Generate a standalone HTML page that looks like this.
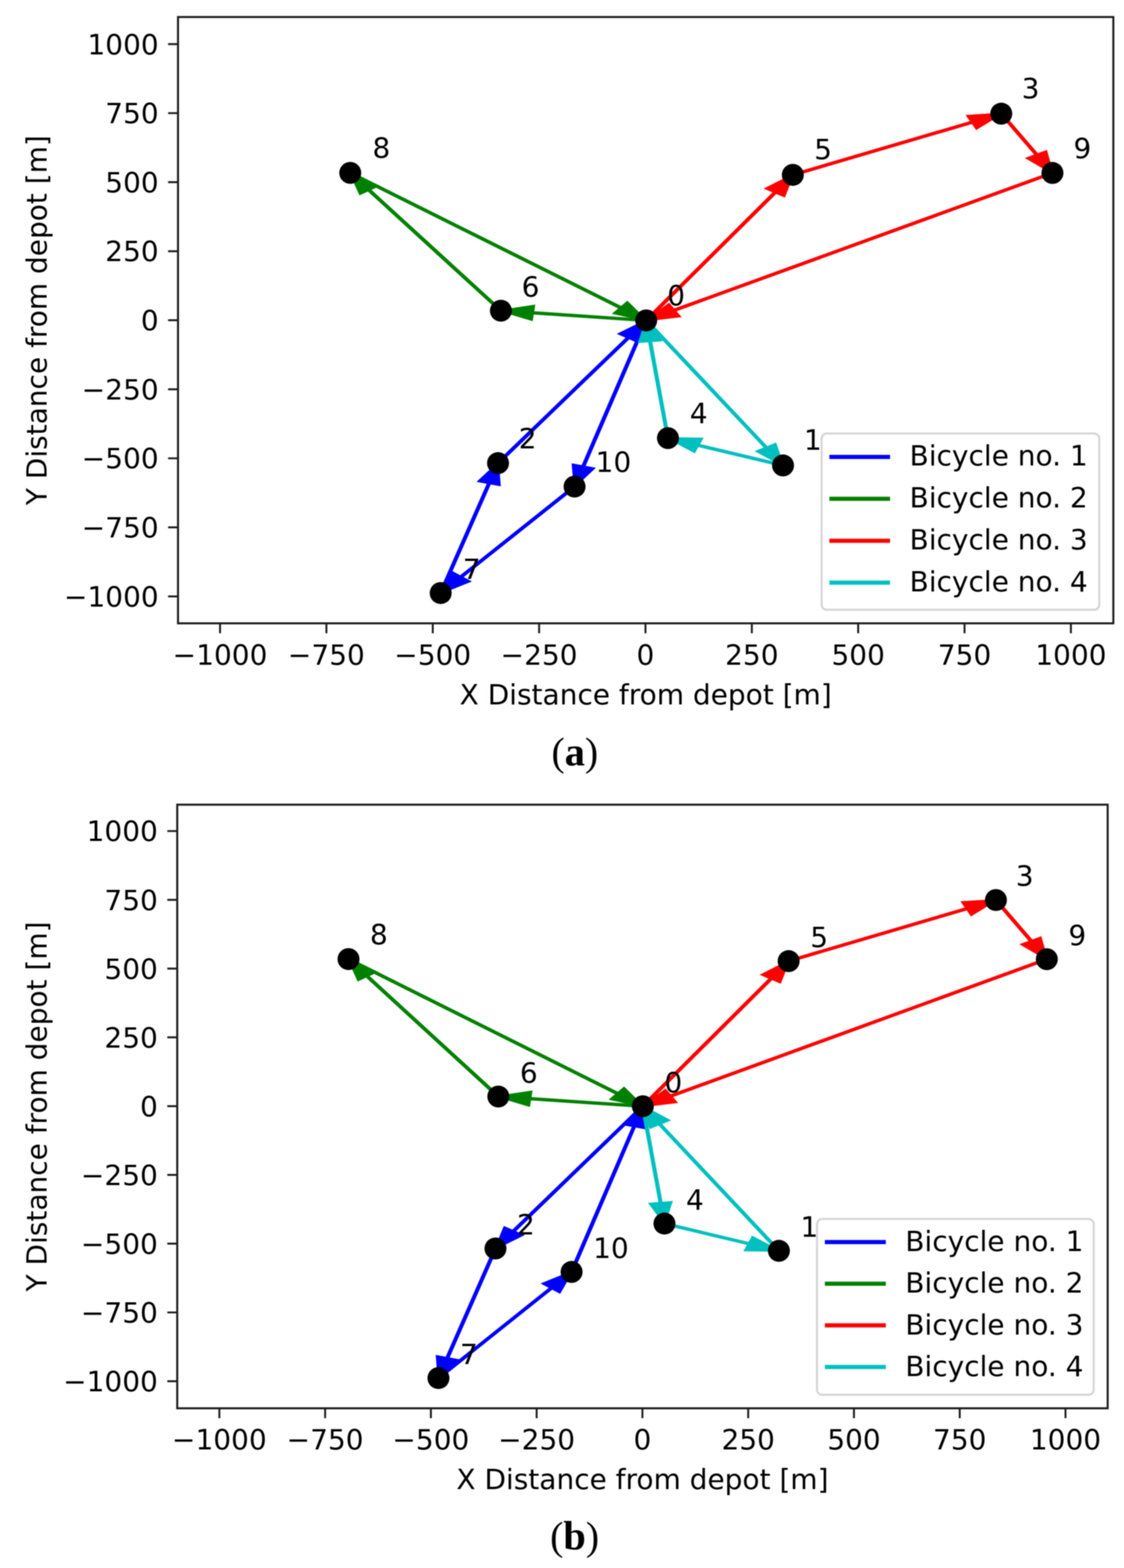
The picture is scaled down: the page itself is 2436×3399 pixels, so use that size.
<!DOCTYPE html>
<html><head><meta charset="utf-8"><title>Bicycle routes</title>
<style>
html,body{margin:0;padding:0;background:#fff;}
svg{display:block;filter:blur(0.8px);}
text{font-family:'DejaVu Sans', 'Liberation Sans', sans-serif;}
</style></head><body>
<svg width="2436" height="3399" viewBox="0 0 2436 3399">
<rect x="0" y="0" width="2436" height="3399" fill="#fff"/>
<g stroke-width="4.1" stroke-linejoin="miter" stroke-miterlimit="4">
<polygon fill="#0000ff" stroke="#0000ff" points="1245.24,1054.78 1241.02,1006.82 1261.79,1010.59 1398.19,694.18 1402.81,695.02 1266.41,1011.42 1287.19,1015.19"/>
<polygon fill="#0000ff" stroke="#0000ff" points="955.08,1285.6 980.78,1240.55 997.5,1249.4 1243.38,1053.79 1247.09,1055.76 1001.22,1251.36 1017.94,1260.2"/>
<polygon fill="#0000ff" stroke="#0000ff" points="1079.37,1003.89 1083.14,1051.86 1062.4,1048.01 957.39,1286.03 952.78,1285.18 1057.79,1047.15 1037.04,1043.3"/>
<polygon fill="#0000ff" stroke="#0000ff" points="1400.5,694.6 1381.24,740.98 1363.35,733.17 1081.36,1004.75 1077.38,1003.02 1359.37,731.43 1341.48,723.61"/>
<polygon fill="#008000" stroke="#008000" points="1085.54,673.49 1157.71,662.7 1155.49,676.62 1400.75,693.05 1400.25,696.15 1155,679.71 1152.78,693.63"/>
<polygon fill="#008000" stroke="#008000" points="759.06,374.79 819.15,402.87 801.54,410.97 1087.5,672.59 1083.59,674.39 797.63,412.77 780.03,420.86"/>
<polygon fill="#008000" stroke="#008000" points="1400.5,694.6 1330.34,679.23 1343.48,668.13 757.6,376.02 760.53,373.56 1346.41,665.67 1359.56,654.57"/>
<polygon fill="#ff0000" stroke="#ff0000" points="1718.22,379.1 1699.97,425.65 1681.91,418 1402.51,695.45 1398.49,693.75 1677.9,416.3 1659.83,408.64"/>
<polygon fill="#ff0000" stroke="#ff0000" points="2170,246.4 2116.06,279.31 2107.16,266.56 1719.21,380.51 1717.23,377.68 2105.18,263.73 2096.28,250.98"/>
<polygon fill="#ff0000" stroke="#ff0000" points="2280.92,374.91 2225.77,342.85 2244.6,336.01 2167.91,247.16 2172.09,245.64 2248.78,334.49 2267.61,327.66"/>
<polygon fill="#ff0000" stroke="#ff0000" points="1400.5,694.6 1449.93,658.83 1460.47,671.04 2279.75,373.55 2282.09,376.27 1462.81,673.76 1473.35,685.97"/>
<polygon fill="#00bfbf" stroke="#00bfbf" points="1697.02,1008.91 1640,978.26 1658.4,970.95 1398.46,695.41 1402.54,693.79 1662.49,969.33 1680.89,962.03"/>
<polygon fill="#00bfbf" stroke="#00bfbf" points="1447.61,949.71 1521.66,950.73 1514.24,963.87 1697.84,1007.45 1696.19,1010.37 1512.59,966.79 1505.18,979.93"/>
<polygon fill="#00bfbf" stroke="#00bfbf" points="1400.5,694.6 1432.64,737.88 1411.21,739.54 1449.99,949.52 1445.23,949.89 1406.45,739.91 1385.03,741.57"/>
</g>
<g fill="#000">
<circle cx="1400.5" cy="694.6" r="23.8"/>
<circle cx="1697.02" cy="1008.91" r="23.8"/>
<circle cx="1079.37" cy="1003.89" r="23.8"/>
<circle cx="2170" cy="246.4" r="23.8"/>
<circle cx="1447.61" cy="949.71" r="23.8"/>
<circle cx="1718.22" cy="379.1" r="23.8"/>
<circle cx="1085.54" cy="673.49" r="23.8"/>
<circle cx="955.08" cy="1285.6" r="23.8"/>
<circle cx="759.06" cy="374.79" r="23.8"/>
<circle cx="2280.92" cy="374.91" r="23.8"/>
<circle cx="1245.24" cy="1054.78" r="23.8"/>
</g>
<g font-size="60.65" fill="#000">
<text x="1446" y="662.3">0</text>
<text x="1742.14" y="975.3">1</text>
<text x="1124.36" y="971.5">2</text>
<text x="2214.18" y="212.84">3</text>
<text x="1495.04" y="916.7">4</text>
<text x="1764.52" y="345.34">5</text>
<text x="1130.57" y="642.84">6</text>
<text x="1002.92" y="1254.9">7</text>
<text x="807.28" y="342.24">8</text>
<text x="2326.42" y="342.61">9</text>
<text x="1290.84" y="1022.84">10</text>
</g>
<rect x="385.8" y="36.9" width="2027.1" height="1314.3" fill="none" stroke="#1c1c1c" stroke-width="4.4" stroke-linejoin="miter"/>
<path d="M476.9 1351.2v21.5M707.4 1351.2v21.5M937.9 1351.2v21.5M1168.4 1351.2v21.5M1398.9 1351.2v21.5M1629.4 1351.2v21.5M1859.9 1351.2v21.5M2090.4 1351.2v21.5M2320.9 1351.2v21.5M385.8 95.6h-21.5M385.8 245.25h-21.5M385.8 394.9h-21.5M385.8 544.55h-21.5M385.8 694.2h-21.5M385.8 843.85h-21.5M385.8 993.5h-21.5M385.8 1143.15h-21.5M385.8 1292.8h-21.5" stroke="#1c1c1c" stroke-width="4.2" fill="none"/>
<g font-size="60.65" fill="#000">
<text x="476.9" y="1441" text-anchor="middle">−1000</text>
<text x="707.4" y="1441" text-anchor="middle">−750</text>
<text x="937.9" y="1441" text-anchor="middle">−500</text>
<text x="1168.4" y="1441" text-anchor="middle">−250</text>
<text x="1398.9" y="1441" text-anchor="middle">0</text>
<text x="1629.4" y="1441" text-anchor="middle">250</text>
<text x="1859.9" y="1441" text-anchor="middle">500</text>
<text x="2090.4" y="1441" text-anchor="middle">750</text>
<text x="2320.9" y="1441" text-anchor="middle">1000</text>
<text x="343.8" y="117.52" text-anchor="end">1000</text>
<text x="343.8" y="267.17" text-anchor="end">750</text>
<text x="343.8" y="416.82" text-anchor="end">500</text>
<text x="343.8" y="566.47" text-anchor="end">250</text>
<text x="343.8" y="716.12" text-anchor="end">0</text>
<text x="343.8" y="865.77" text-anchor="end">−250</text>
<text x="343.8" y="1015.42" text-anchor="end">−500</text>
<text x="343.8" y="1165.07" text-anchor="end">−750</text>
<text x="343.8" y="1314.72" text-anchor="end">−1000</text>
<text x="1399.35" y="1527" text-anchor="middle">X Distance from depot [m]</text>
<text transform="translate(100.8 694.05) rotate(-90)" x="0" y="0" text-anchor="middle">Y Distance from depot [m]</text>
</g>
<rect x="1780.7" y="939.6" width="601.7" height="382.2" rx="11" ry="11" fill="#fff" fill-opacity="0.8" stroke="#d4d4d4" stroke-width="4.4"/>
<path d="M1797.5 990.4H1929" stroke="#0000ff" stroke-width="9" fill="none"/>
<text x="1971.3" y="1009.3" font-size="60.65">Bicycle no. 1</text>
<path d="M1797.5 1081.3H1929" stroke="#008000" stroke-width="9" fill="none"/>
<text x="1971.3" y="1100.2" font-size="60.65">Bicycle no. 2</text>
<path d="M1797.5 1172.2H1929" stroke="#ff0000" stroke-width="9" fill="none"/>
<text x="1971.3" y="1191.1" font-size="60.65">Bicycle no. 3</text>
<path d="M1797.5 1263.1H1929" stroke="#00bfbf" stroke-width="9" fill="none"/>
<text x="1971.3" y="1282" font-size="60.65">Bicycle no. 4</text>
<text x="1245.8" y="1658.5" text-anchor="middle" style="font-family:'Liberation Serif', 'DejaVu Serif', serif" font-size="86">(<tspan font-weight="bold" font-size="88">a</tspan>)</text>
<g stroke-width="4.1" stroke-linejoin="miter" stroke-miterlimit="4">
<polygon fill="#0000ff" stroke="#0000ff" points="1073.84,2706.41 1092.99,2660.16 1110.79,2667.95 1391.22,2397.13 1395.18,2398.87 1114.75,2669.68 1132.54,2677.48"/>
<polygon fill="#0000ff" stroke="#0000ff" points="950.25,2987.32 946.5,2939.49 967.12,2943.33 1071.55,2705.98 1076.14,2706.83 971.71,2944.18 992.34,2948.02"/>
<polygon fill="#0000ff" stroke="#0000ff" points="1238.79,2757.15 1213.24,2802.07 1196.61,2793.26 952.09,2988.3 948.4,2986.34 1192.91,2791.3 1176.28,2782.48"/>
<polygon fill="#0000ff" stroke="#0000ff" points="1393.2,2398 1397.4,2445.82 1376.73,2442.06 1241.09,2757.57 1236.5,2756.73 1372.14,2441.23 1351.48,2437.47"/>
<polygon fill="#008000" stroke="#008000" points="1079.99,2376.95 1151.75,2366.19 1149.55,2380.07 1393.45,2396.46 1392.95,2399.54 1149.06,2383.15 1146.85,2397.03"/>
<polygon fill="#008000" stroke="#008000" points="755.31,2079.1 815.06,2107.1 797.56,2115.17 1081.93,2376.05 1078.04,2377.85 793.67,2116.97 776.16,2125.04"/>
<polygon fill="#008000" stroke="#008000" points="1393.2,2398 1323.42,2382.67 1336.5,2371.61 753.86,2080.33 756.77,2077.87 1339.41,2369.15 1352.48,2358.09"/>
<polygon fill="#ff0000" stroke="#ff0000" points="1709.16,2083.39 1691.02,2129.81 1673.05,2122.18 1395.2,2398.85 1391.2,2397.15 1669.06,2120.49 1651.1,2112.86"/>
<polygon fill="#ff0000" stroke="#ff0000" points="2158.44,1951.07 2104.8,1983.89 2095.95,1971.18 1710.15,2084.8 1708.18,2081.98 2093.98,1968.36 2085.13,1955.65"/>
<polygon fill="#ff0000" stroke="#ff0000" points="2268.75,2079.22 2213.91,2047.25 2232.63,2040.43 2156.36,1951.83 2160.52,1950.32 2236.79,2038.92 2255.51,2032.1"/>
<polygon fill="#ff0000" stroke="#ff0000" points="1393.2,2398 1442.36,2362.33 1452.84,2374.51 2267.58,2077.87 2269.91,2080.57 1455.17,2377.21 1465.65,2389.39"/>
<polygon fill="#00bfbf" stroke="#00bfbf" points="1440.05,2652.38 1408.1,2609.23 1429.4,2607.57 1390.83,2398.18 1395.57,2397.82 1434.13,2607.2 1455.44,2605.54"/>
<polygon fill="#00bfbf" stroke="#00bfbf" points="1688.08,2711.42 1614.44,2710.4 1621.82,2697.3 1439.23,2653.84 1440.87,2650.93 1623.46,2694.38 1630.83,2681.28"/>
<polygon fill="#00bfbf" stroke="#00bfbf" points="1393.2,2398 1449.9,2428.56 1431.6,2435.85 1690.11,2710.61 1686.04,2712.22 1427.54,2437.47 1409.24,2444.75"/>
</g>
<g fill="#000">
<circle cx="1393.2" cy="2398" r="23.8"/>
<circle cx="1688.08" cy="2711.42" r="23.8"/>
<circle cx="1073.84" cy="2706.41" r="23.8"/>
<circle cx="2158.44" cy="1951.07" r="23.8"/>
<circle cx="1440.05" cy="2652.38" r="23.8"/>
<circle cx="1709.16" cy="2083.39" r="23.8"/>
<circle cx="1079.99" cy="2376.95" r="23.8"/>
<circle cx="950.25" cy="2987.32" r="23.8"/>
<circle cx="755.31" cy="2079.1" r="23.8"/>
<circle cx="2268.75" cy="2079.22" r="23.8"/>
<circle cx="1238.79" cy="2757.15" r="23.8"/>
</g>
<g font-size="60.65" fill="#000">
<text x="1439.95" y="2367.59">0</text>
<text x="1734.82" y="2681.01">1</text>
<text x="1120.59" y="2676">2</text>
<text x="2201.58" y="1919.54">3</text>
<text x="1486.8" y="2621.97">4</text>
<text x="1755.91" y="2052.98">5</text>
<text x="1126.74" y="2346.54">6</text>
<text x="996.99" y="2956.92">7</text>
<text x="801.68" y="2046.74">8</text>
<text x="2315.5" y="2048.81">9</text>
<text x="1285.54" y="2726.74">10</text>
</g>
<rect x="384.1" y="1744.3" width="2016.5" height="1308.5" fill="none" stroke="#1c1c1c" stroke-width="4.4" stroke-linejoin="miter"/>
<path d="M475.4 3052.8v21.5M704.62 3052.8v21.5M933.85 3052.8v21.5M1163.07 3052.8v21.5M1392.3 3052.8v21.5M1621.52 3052.8v21.5M1850.75 3052.8v21.5M2079.97 3052.8v21.5M2309.2 3052.8v21.5M384.1 1801.5h-21.5M384.1 1950.58h-21.5M384.1 2099.65h-21.5M384.1 2248.72h-21.5M384.1 2397.8h-21.5M384.1 2546.88h-21.5M384.1 2695.95h-21.5M384.1 2845.02h-21.5M384.1 2994.1h-21.5" stroke="#1c1c1c" stroke-width="4.2" fill="none"/>
<g font-size="60.65" fill="#000">
<text x="475.4" y="3142.3" text-anchor="middle">−1000</text>
<text x="704.62" y="3142.3" text-anchor="middle">−750</text>
<text x="933.85" y="3142.3" text-anchor="middle">−500</text>
<text x="1163.07" y="3142.3" text-anchor="middle">−250</text>
<text x="1392.3" y="3142.3" text-anchor="middle">0</text>
<text x="1621.52" y="3142.3" text-anchor="middle">250</text>
<text x="1850.75" y="3142.3" text-anchor="middle">500</text>
<text x="2079.97" y="3142.3" text-anchor="middle">750</text>
<text x="2309.2" y="3142.3" text-anchor="middle">1000</text>
<text x="342.1" y="1823.42" text-anchor="end">1000</text>
<text x="342.1" y="1972.5" text-anchor="end">750</text>
<text x="342.1" y="2121.57" text-anchor="end">500</text>
<text x="342.1" y="2270.65" text-anchor="end">250</text>
<text x="342.1" y="2419.72" text-anchor="end">0</text>
<text x="342.1" y="2568.8" text-anchor="end">−250</text>
<text x="342.1" y="2717.87" text-anchor="end">−500</text>
<text x="342.1" y="2866.95" text-anchor="end">−750</text>
<text x="342.1" y="3016.02" text-anchor="end">−1000</text>
<text x="1392.35" y="3227.5" text-anchor="middle">X Distance from depot [m]</text>
<text transform="translate(101 2398.55) rotate(-90)" x="0" y="0" text-anchor="middle">Y Distance from depot [m]</text>
</g>
<rect x="1770.7" y="2642.4" width="599.6" height="381.1" rx="11" ry="11" fill="#fff" fill-opacity="0.8" stroke="#d4d4d4" stroke-width="4.4"/>
<path d="M1787.7 2692.4H1919.8" stroke="#0000ff" stroke-width="9" fill="none"/>
<text x="1962" y="2712" font-size="60.65">Bicycle no. 1</text>
<path d="M1787.7 2782.7H1919.8" stroke="#008000" stroke-width="9" fill="none"/>
<text x="1962" y="2802.3" font-size="60.65">Bicycle no. 2</text>
<path d="M1787.7 2873H1919.8" stroke="#ff0000" stroke-width="9" fill="none"/>
<text x="1962" y="2892.6" font-size="60.65">Bicycle no. 3</text>
<path d="M1787.7 2963.3H1919.8" stroke="#00bfbf" stroke-width="9" fill="none"/>
<text x="1962" y="2982.9" font-size="60.65">Bicycle no. 4</text>
<text x="1245.3" y="3358.5" text-anchor="middle" style="font-family:'Liberation Serif', 'DejaVu Serif', serif" font-size="86">(<tspan font-weight="bold" font-size="88">b</tspan>)</text>
</svg>
</body></html>
